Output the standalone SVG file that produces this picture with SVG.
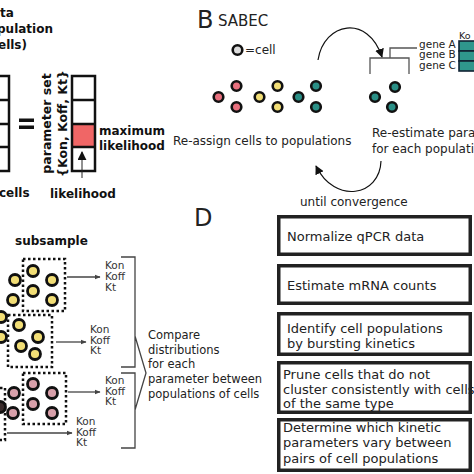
<svg xmlns="http://www.w3.org/2000/svg" width="474" height="474" viewBox="0 0 474 474">
<style>
text{font-family:"DejaVu Sans","Liberation Sans",sans-serif;fill:#222}
.b{font-weight:bold;font-size:12px;fill:#111}
.rb{font-weight:bold;font-size:12.5px;fill:#111}
.r12{font-size:12px}
.k{font-size:10.5px;fill:#333}
.cmp{font-size:11.5px}
.step{font-size:13px;fill:#222}
.mat{fill:none;stroke:#111;stroke-width:2.5}
.dot{stroke:#111;stroke-width:2.6}
.cdot{stroke:#111;stroke-width:2.8}
.y{fill:#f2de76}
.p{fill:#e8707e}
.t{fill:#2a8f86}
.pk{fill:#d8a0aa}
.dbox{fill:none;stroke:#111;stroke-width:2.5;stroke-dasharray:2.5 2.5}
.box{fill:#fff;stroke:#222;stroke-width:3.5}
.thin{fill:none;stroke:#444;stroke-width:1.3}
.arc{fill:none;stroke:#111;stroke-width:1.2}
.tree{fill:none;stroke:#555;stroke-width:1.3}
</style>
<defs>
<marker id="ah" viewBox="0 0 10 10" refX="9" refY="5" markerWidth="9" markerHeight="9" markerUnits="userSpaceOnUse" orient="auto"><path d="M0,0 L10,5 L0,10 z" fill="#111"/></marker>
<marker id="ahs" viewBox="0 0 10 10" refX="9" refY="5" markerWidth="6" markerHeight="6" markerUnits="userSpaceOnUse" orient="auto"><path d="M0,1 L10,5 L0,9 z" fill="#444"/></marker>
</defs>

<!-- Panel A -->
<g id="panelA-title">
<text class="b" x="0" y="17">ta</text>
<text class="b" x="-3" y="33">pulation</text>
<text class="b" x="-2" y="49">ells)</text>
</g>
<g id="cells-matrix">
<rect class="mat" x="-20" y="76" width="29" height="95"/>
<path class="mat" d="M-20,100 H9 M-20,124 H9 M-20,147 H9"/>
<text class="b" x="-1" y="197">cells</text>
</g>
<g id="equals">
<rect x="19" y="118.5" width="15" height="3.5" fill="#111"/>
<rect x="19" y="125.5" width="15" height="3.5" fill="#111"/>
</g>
<g id="param-label">
<text class="rb" transform="translate(51,123.5) rotate(-90)" text-anchor="middle">parameter set</text>
<text class="rb" transform="translate(67,123.5) rotate(-90)" text-anchor="middle">{Kon, Koff, Kt}</text>
</g>
<g id="likelihood-column">
<rect x="72" y="124" width="23" height="23" fill="#f06666"/>
<rect class="mat" x="72" y="76" width="23" height="95"/>
<path class="mat" d="M72,100 H95 M72,124 H95 M72,147 H95"/>
<text class="b" x="99" y="135">maximum</text>
<text class="b" x="99" y="150">likelihood</text>
<text class="b" x="50" y="198">likelihood</text>
</g>

<!-- Panel B -->
<g id="panelB-title">
<text x="197" y="28" font-size="24" fill="#111">B</text>
<text x="218" y="26" font-size="15" fill="#444">SABEC</text>
</g>
<g id="cell-legend">
<circle cx="237.5" cy="50" r="4.8" fill="#ddd" stroke="#111" stroke-width="2.6"/>
<text class="r12" x="245" y="54">=cell</text>
</g>
<g id="reassign">
<circle class="dot p" cx="218.5" cy="97" r="4.8"/>
<circle class="dot p" cx="236.5" cy="86" r="4.8"/>
<circle class="dot p" cx="236.5" cy="107" r="4.8"/>
<circle class="dot y" cx="259.5" cy="97" r="4.8"/>
<circle class="dot y" cx="277.5" cy="86" r="4.8"/>
<circle class="dot y" cx="277.5" cy="107" r="4.8"/>
<circle class="dot t" cx="298.5" cy="97" r="4.8"/>
<circle class="dot t" cx="316" cy="86" r="4.8"/>
<circle class="dot t" cx="316" cy="107" r="4.8"/>
<text class="r12" x="173" y="145">Re-assign cells to populations</text>
</g>
<g id="reestimate">
<path class="tree" d="M390,58 V48 H417 M370,74 V58 H409 V74"/>
<text x="419" y="48" font-size="10.5" fill="#333">gene A</text>
<text x="419" y="58" font-size="10.5" fill="#333">gene B</text>
<text x="419" y="68.5" font-size="10.5" fill="#333">gene C</text>
<text x="459" y="39" font-size="9.5" fill="#222">Ko</text>
<rect x="459" y="41" width="22" height="10" fill="#2f968c" stroke="#123" stroke-width="1.6"/>
<rect x="459" y="51" width="22" height="10" fill="#2f968c" stroke="#123" stroke-width="1.6"/>
<rect x="459" y="61" width="22" height="10" fill="#2f968c" stroke="#123" stroke-width="1.6"/>
<circle class="dot t" cx="375" cy="97" r="4.8"/>
<circle class="dot t" cx="395" cy="87" r="4.8"/>
<circle class="dot t" cx="392" cy="107" r="4.8"/>
<text class="r12" x="372" y="137">Re-estimate parameters</text>
<text class="r12" x="372" y="153">for each population</text>
</g>
<g id="until">
<text class="r12" x="300" y="206">until convergence</text>
</g>

<!-- Panel C -->
<g id="subsample-label">
<text class="b" x="15" y="245">subsample</text>
</g>
<g id="sample1">
<circle class="cdot y" cx="15" cy="280" r="5.5"/>
<circle class="cdot y" cx="13" cy="300" r="5.5"/>
<rect class="dbox" x="23" y="259" width="42" height="52"/>
<circle class="cdot y" cx="33" cy="271" r="5.5"/>
<circle class="cdot y" cx="52" cy="280" r="5.5"/>
<circle class="cdot y" cx="33" cy="291" r="5.5"/>
<circle class="cdot y" cx="52" cy="300" r="5.5"/>
</g>
<g id="sample2">
<circle class="cdot y" cx="1" cy="317" r="5.5"/>
<circle class="cdot y" cx="1" cy="337" r="5.5"/>
<rect class="dbox" x="8" y="315" width="44" height="52"/>
<circle class="cdot y" cx="19" cy="325" r="5.5"/>
<circle class="cdot y" cx="38" cy="337" r="5.5"/>
<circle class="cdot y" cx="21" cy="346" r="5.5"/>
<circle class="cdot y" cx="35" cy="354" r="5.5"/>
</g>
<g id="sample3">
<circle class="cdot pk" cx="14" cy="393" r="5.5"/>
<circle class="cdot pk" cx="13" cy="413" r="5.5"/>
<rect class="dbox" x="23" y="373" width="43" height="51"/>
<circle class="cdot pk" cx="33" cy="384" r="5.5"/>
<circle class="cdot pk" cx="52" cy="393" r="5.5"/>
<circle class="cdot pk" cx="33" cy="404" r="5.5"/>
<circle class="cdot pk" cx="52" cy="413" r="5.5"/>
</g>
<g id="sample4">
<circle class="cdot" cx="0" cy="407" r="5.5" fill="#3a2c2c"/>
<rect class="dbox" x="-20" y="388" width="25" height="52"/>
</g>
<g id="params1">
<text class="k" x="105" y="269">Kon</text><text class="k" x="105" y="280">Koff</text><text class="k" x="105" y="291">Kt</text>
</g>
<g id="params2">
<text class="k" x="90" y="333">Kon</text><text class="k" x="90" y="344">Koff</text><text class="k" x="90" y="354">Kt</text>
</g>
<g id="params3">
<text class="k" x="105" y="384">Kon</text><text class="k" x="105" y="395">Koff</text><text class="k" x="105" y="405">Kt</text>
</g>
<g id="params4">
<text class="k" x="76" y="425">Kon</text><text class="k" x="76" y="436">Koff</text><text class="k" x="76" y="446">Kt</text>
</g>
<g id="compare">
<text class="cmp" x="148" y="339">Compare</text>
<text class="cmp" x="148" y="354">distributions</text>
<text class="cmp" x="148" y="368">for each</text>
<text class="cmp" x="148" y="383">parameter between</text>
<text class="cmp" x="148" y="398">populations of cells</text>
</g>

<!-- Panel D -->
<g id="panelD-title">
<text x="194" y="226" font-size="24" fill="#111">D</text>
</g>
<g id="step1">
<rect class="box" x="278.75" y="216.75" width="191.5" height="37.5"/>
<text class="step" x="287" y="241">Normalize qPCR data</text>
</g>
<g id="step2">
<rect class="box" x="278.75" y="265.75" width="191.5" height="37.5"/>
<text class="step" x="287" y="290">Estimate mRNA counts</text>
</g>
<g id="step3">
<rect class="box" x="278.75" y="313.75" width="191.5" height="40.5"/>
<text class="step" x="287" y="333">Identify cell populations</text>
<text class="step" x="287" y="348">by bursting kinetics</text>
</g>
<g id="step4">
<rect class="box" x="278.75" y="362.75" width="191.5" height="49.5"/>
<text class="step" x="283" y="379">Prune cells that do not</text>
<text class="step" x="283" y="394">cluster consistently with cells</text>
<text class="step" x="283" y="408">of the same type</text>
</g>
<g id="step5">
<rect class="box" x="278.75" y="419.75" width="191.5" height="50.5"/>
<text class="step" x="283" y="432">Determine which kinetic</text>
<text class="step" x="283" y="447">parameters vary between</text>
<text class="step" x="283" y="463">pairs of cell populations</text>
</g>

<g id="connectors">
<line x1="82" y1="178" x2="82" y2="152" stroke="#222" stroke-width="1" marker-end="url(#ah)"/>
<path class="arc" d="M318,60 C324,22 368,14 382,57" marker-end="url(#ah)"/>
<path class="arc" d="M381,161 C380,196 335,205 316,166" marker-end="url(#ah)"/>
<line class="thin" x1="67" y1="277" x2="100" y2="277" marker-end="url(#ahs)"/>
<line class="thin" x1="56" y1="342" x2="86" y2="342" marker-end="url(#ahs)"/>
<line class="thin" x1="68" y1="392" x2="100" y2="392" marker-end="url(#ahs)"/>
<line class="thin" x1="7" y1="433" x2="72" y2="433" marker-end="url(#ahs)"/>
<path class="thin" d="M121,257 H135 V367 H121 M121,373 H135 V448 H121 M135,336 L146,373 L135,410"/>
</g>
</svg>
